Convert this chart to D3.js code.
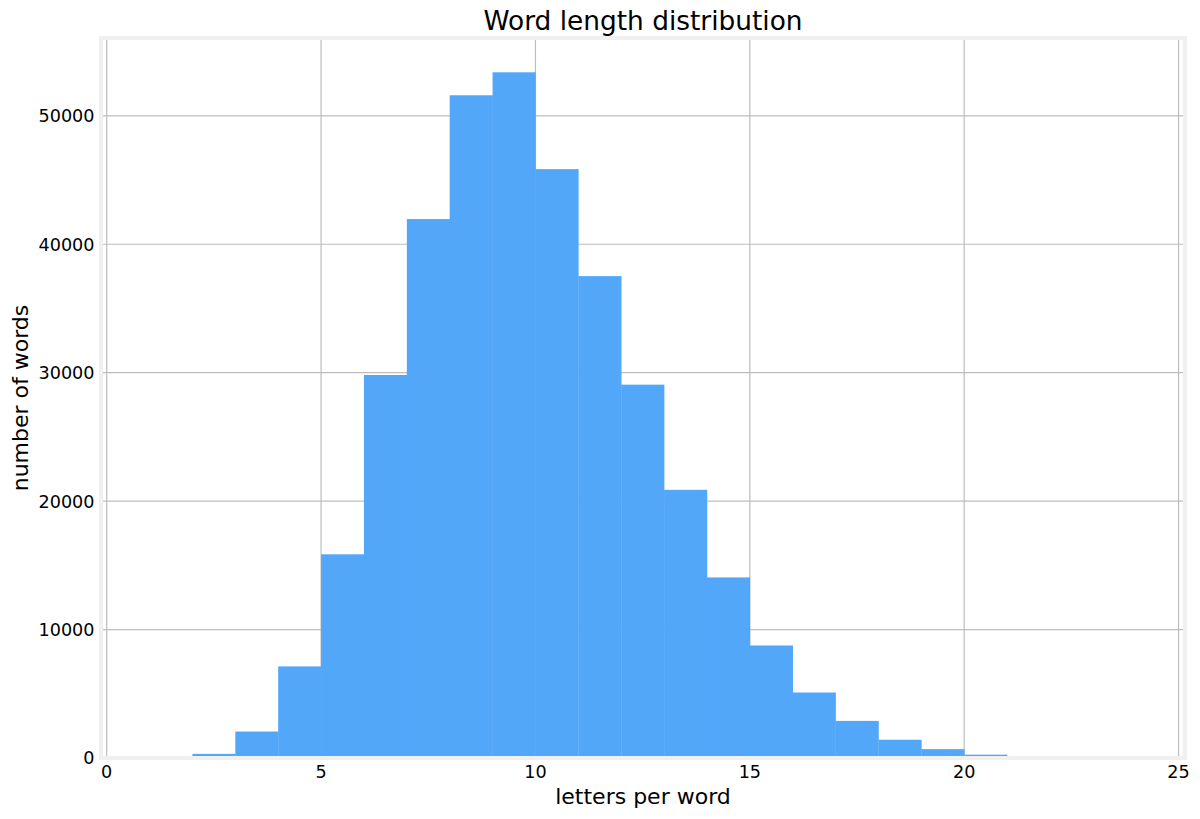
<!DOCTYPE html>
<html>
<head>
<meta charset="utf-8">
<script src="https://cdn.jsdelivr.net/npm/d3@7"></script>
<style>
  body { margin: 0; background: #fff; }
  text { font-family: "DejaVu Sans", sans-serif; fill: #000; }
</style>
</head>
<body>
<svg id="chart" width="1200" height="819"></svg>
<script>
// histogram bins, 1 letter wide
const binStarts = [2, 3, 4, 5, 6, 7, 8, 9, 10, 11, 12, 13, 14, 15, 16, 17, 18, 19, 20, 21];
const wordCounts = [320, 2060, 7130, 15860, 29820, 41960, 51600, 53390, 45850, 37520,
                    29070, 20880, 14060, 8760, 5100, 2890, 1420, 690, 260, 60];
const xTicks = [0, 5, 10, 15, 20, 25];
const yTicks = [0, 10000, 20000, 30000, 40000, 50000];

const svg = d3.select('#chart');
const margin = { left: 101, right: 1185, top: 38, bottom: 758 };

const x = d3.scaleLinear().domain([-0.133, 25.15]).range([margin.left, margin.right]);
const y = d3.scaleLinear().domain([0, 56060]).range([margin.bottom, margin.top]);

// grid
svg.append('g').selectAll('line')
    .data(xTicks)
    .enter()
    .append('line')
    .attr('x1', d => x(d)).attr('x2', d => x(d))
    .attr('y1', margin.top).attr('y2', margin.bottom)
    .attr('stroke', '#bdbdbd')
    .attr('stroke-width', 1.2);

svg.append('g').selectAll('line')
    .data(yTicks)
    .enter()
    .append('line')
    .attr('x1', margin.left).attr('x2', margin.right)
    .attr('y1', d => y(d)).attr('y2', d => y(d))
    .attr('stroke', '#bdbdbd')
    .attr('stroke-width', 1.2);

// bars (no edges, adjacent bins run together)
svg.append('g').selectAll('rect')
    .data(binStarts)
    .enter()
    .append('rect')
    .attr('x', d => x(d))
    .attr('width', d => x(d + 1) - x(d) + 0.3)
    .attr('y', (d, i) => y(wordCounts[i]))
    .attr('height', (d, i) => y(0) - y(wordCounts[i]))
    .attr('fill', '#52a7f9');

// frame
svg.append('rect')
    .attr('x', margin.left).attr('y', margin.top)
    .attr('width', margin.right - margin.left)
    .attr('height', margin.bottom - margin.top)
    .attr('fill', 'none')
    .attr('stroke', '#f0f0f0')
    .attr('stroke-width', 4);

// tick labels
svg.append('g').selectAll('text')
    .data(xTicks)
    .enter()
    .append('text')
    .attr('x', d => x(d))
    .attr('y', 777.5)
    .attr('text-anchor', 'middle')
    .style('font-size', '17.6px')
    .text(d => d);

svg.append('g').selectAll('text')
    .data(yTicks)
    .enter()
    .append('text')
    .attr('x', 94.5)
    .attr('y', d => y(d) + 6.4)
    .attr('text-anchor', 'end')
    .style('font-size', '17.6px')
    .text(d => d);

// titles
svg.append('text')
    .attr('x', (margin.left + margin.right) / 2)
    .attr('y', 29.5)
    .attr('text-anchor', 'middle')
    .style('font-size', '26.4px')
    .text('Word length distribution');

svg.append('text')
    .attr('x', (margin.left + margin.right) / 2)
    .attr('y', 804)
    .attr('text-anchor', 'middle')
    .style('font-size', '22px')
    .text('letters per word');

svg.append('text')
    .attr('transform', 'translate(28,' + (margin.top + margin.bottom) / 2 + ') rotate(-90)')
    .attr('text-anchor', 'middle')
    .style('font-size', '22px')
    .text('number of words');
</script>
</body>
</html>
